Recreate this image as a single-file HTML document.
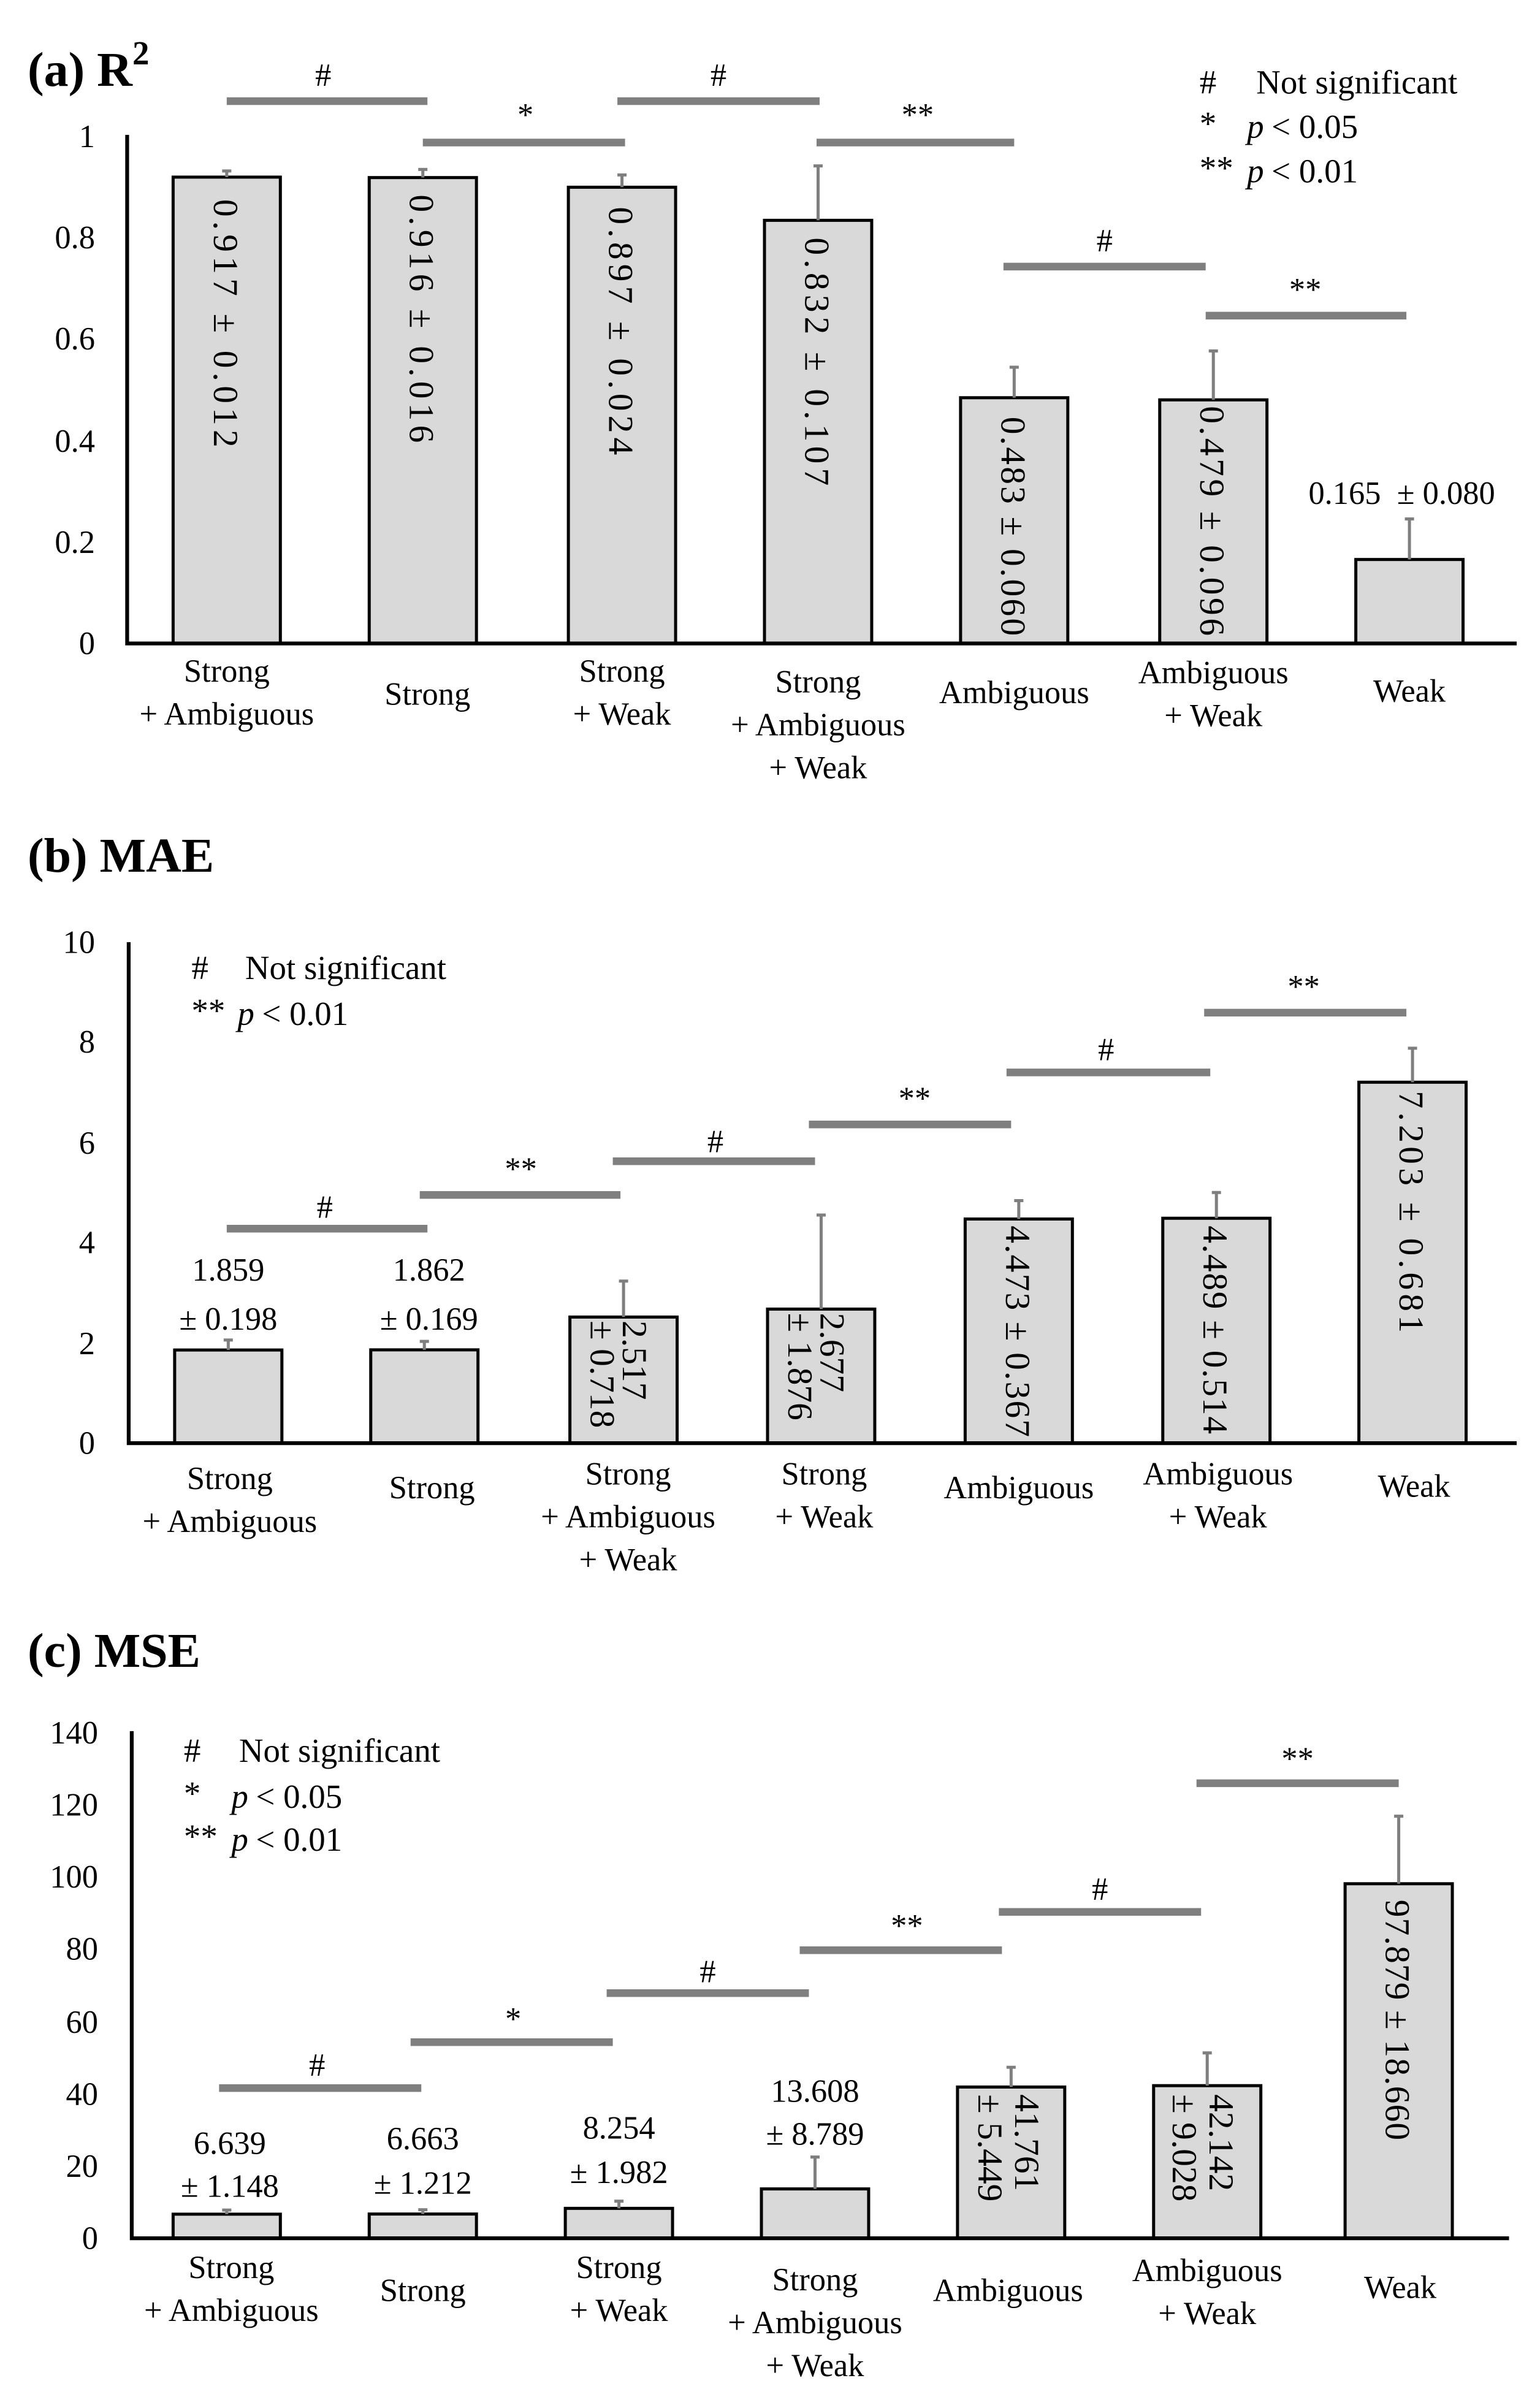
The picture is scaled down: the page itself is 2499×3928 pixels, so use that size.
<!DOCTYPE html>
<html><head><meta charset="utf-8"><style>
html,body{margin:0;padding:0;background:#fff;}
svg{display:block;font-family:"Liberation Serif","Times New Roman",serif;}
svg text{font-family:"Liberation Serif","Times New Roman",serif;fill:#000;}
.t{font-size:22px;}
.tk{font-size:21px;text-anchor:end;}
.c{font-size:21px;text-anchor:middle;}
.h{font-size:32px;font-weight:bold;}
.r{font-size:23px;dominant-baseline:central;}
.bar{fill:#d9d9d9;stroke:#000;stroke-width:2;}
.sig{stroke:#7f7f7f;stroke-width:5;}
.err{stroke:#7f7f7f;stroke-width:2;}
.ax{stroke:#000;stroke-width:2.5;fill:none;}
</style></head><body>
<svg width="2499" height="3928" viewBox="0 0 1000 1571.8" xmlns="http://www.w3.org/2000/svg" font-family="Liberation Serif, Times New Roman, serif">
<!-- ============ (a) ============ -->
<text x="18" y="56" class="h">(a) R<tspan font-size="22" dy="-14">2</tspan></text>
<g class="tk">
<text x="62" y="427">0</text><text x="62" y="361">0.2</text><text x="62" y="295">0.4</text>
<text x="62" y="228">0.6</text><text x="62" y="162">0.8</text><text x="62" y="96">1</text>
</g>
<g>
<rect class="bar" x="113" y="115.6" width="70" height="304.4"/>
<rect class="bar" x="241" y="115.9" width="70" height="304.1"/>
<rect class="bar" x="371" y="122.2" width="70" height="297.8"/>
<rect class="bar" x="499" y="143.8" width="70" height="276.2"/>
<rect class="bar" x="627" y="259.6" width="70" height="160.4"/>
<rect class="bar" x="757" y="261" width="70" height="159"/>
<rect class="bar" x="885" y="365.2" width="70" height="54.8"/>
</g>
<g class="err">
<path d="M148 115.6V111.6M145 111.6h6"/><path d="M276 115.9V110.6M273 110.6h6"/>
<path d="M406 122.2V114.2M403 114.2h6"/><path d="M534 143.8V108.3M531 108.3h6"/>
<path d="M662 259.6V239.7M659 239.7h6"/><path d="M792 261V229.1M789 229.1h6"/>
<path d="M920 365.2V338.7M917 338.7h6"/>
</g>
<path class="ax" d="M83 88V420H990"/>
<g>
<text class="r" transform="translate(147,130) rotate(90)" textLength="162">0.917 ± 0.012</text>
<text class="r" transform="translate(275,127) rotate(90)" textLength="162">0.916 ± 0.016</text>
<text class="r" transform="translate(405,135) rotate(90)" textLength="162">0.897 ± 0.024</text>
<text class="r" transform="translate(533,155) rotate(90)" textLength="162">0.832 ± 0.107</text>
<text class="r" transform="translate(661,272) rotate(90)" textLength="143">0.483 ± 0.060</text>
<text class="r" transform="translate(791,265) rotate(90)" textLength="150">0.479 ± 0.096</text>
</g>
<text x="915" y="329" class="c" font-size="23">0.165 &#160;± 0.080</text>
<g class="sig">
<path d="M148 66H279"/><path d="M276 93H408"/><path d="M403 66H535"/><path d="M533 93H662"/>
<path d="M655 174H787"/><path d="M787 206H918"/>
</g>
<g class="c">
<text x="211" y="56">#</text><text x="343" y="82">*</text><text x="469" y="56">#</text><text x="599" y="82">**</text>
<text x="721" y="164">#</text><text x="852" y="196">**</text>
</g>
<g class="t">
<text x="783" y="61">#</text><text x="820" y="61">Not significant</text>
<text x="783" y="88">*</text><text x="814" y="90" font-style="italic">p</text><text x="830" y="90">&lt; 0.05</text>
<text x="783" y="117">**</text><text x="814" y="119" font-style="italic">p</text><text x="830" y="119">&lt; 0.01</text>
</g>
<g class="c">
<text x="148" y="445">Strong</text><text x="148" y="473">+ Ambiguous</text>
<text x="279" y="460">Strong</text>
<text x="406" y="445">Strong</text><text x="406" y="473">+ Weak</text>
<text x="534" y="452">Strong</text><text x="534" y="480">+ Ambiguous</text><text x="534" y="508">+ Weak</text>
<text x="662" y="459">Ambiguous</text>
<text x="792" y="446">Ambiguous</text><text x="792" y="474">+ Weak</text>
<text x="920" y="458">Weak</text>
</g>

<!-- ============ (b) ============ -->
<text x="18" y="569" class="h">(b) MAE</text>
<g class="tk">
<text x="62" y="949">0</text><text x="62" y="884">2</text><text x="62" y="818">4</text>
<text x="62" y="753">6</text><text x="62" y="687">8</text><text x="62" y="622">10</text>
</g>
<g>
<rect class="bar" x="114" y="881.2" width="70" height="60.8"/>
<rect class="bar" x="242" y="881.1" width="70" height="60.9"/>
<rect class="bar" x="372" y="859.7" width="70" height="82.3"/>
<rect class="bar" x="501" y="854.5" width="70" height="87.5"/>
<rect class="bar" x="630" y="795.7" width="70" height="146.3"/>
<rect class="bar" x="759" y="795.2" width="70" height="146.8"/>
<rect class="bar" x="887" y="706.4" width="70" height="235.6"/>
</g>
<g class="err">
<path d="M149 881.2V874.7M146 874.7h6"/><path d="M277 881.1V875.6M274 875.6h6"/>
<path d="M407 859.7V836.2M404 836.2h6"/><path d="M536 854.5V793.1M533 793.1h6"/>
<path d="M665 795.7V783.7M662 783.7h6"/><path d="M794 795.2V778.4M791 778.4h6"/>
<path d="M922 706.4V684.2M919 684.2h6"/>
</g>
<path class="ax" d="M84 615V942H990"/>
<g>
<text class="r" font-size="21" transform="translate(414,862) rotate(90)">2.517</text>
<text class="r" font-size="21" transform="translate(393,862) rotate(90)">± 0.718</text>
<text class="r" font-size="21" transform="translate(543,857) rotate(90)">2.677</text>
<text class="r" font-size="21" transform="translate(522,857) rotate(90)">± 1.876</text>
<text class="r" transform="translate(664,800) rotate(90)" textLength="138">4.473 ± 0.367</text>
<text class="r" transform="translate(793,800) rotate(90)" textLength="136">4.489 ± 0.514</text>
<text class="r" transform="translate(921,712) rotate(90)" textLength="158">7.203 ± 0.681</text>
</g>
<g class="c" font-size="23">
<text x="149" y="836">1.859</text><text x="149" y="868">± 0.198</text>
<text x="280" y="836">1.862</text><text x="280" y="868">± 0.169</text>
</g>
<g class="sig">
<path d="M148 802H279"/><path d="M274 780H405"/><path d="M400 758H532"/><path d="M528 734H660"/>
<path d="M657 700H790"/><path d="M786 661H918"/>
</g>
<g class="c">
<text x="212" y="795">#</text><text x="340" y="770">**</text><text x="467" y="752">#</text><text x="597" y="724">**</text>
<text x="722" y="692">#</text><text x="851" y="651">**</text>
</g>
<g class="t">
<text x="125" y="639">#</text><text x="160" y="639">Not significant</text>
<text x="125" y="667">**</text><text x="155" y="669" font-style="italic">p</text><text x="171" y="669">&lt; 0.01</text>
</g>
<g class="c">
<text x="150" y="972">Strong</text><text x="150" y="1000">+ Ambiguous</text>
<text x="282" y="978">Strong</text>
<text x="410" y="969">Strong</text><text x="410" y="997">+ Ambiguous</text><text x="410" y="1025">+ Weak</text>
<text x="538" y="969">Strong</text><text x="538" y="997">+ Weak</text>
<text x="665" y="978">Ambiguous</text>
<text x="795" y="969">Ambiguous</text><text x="795" y="997">+ Weak</text>
<text x="923" y="977">Weak</text>
</g>

<!-- ============ (c) ============ -->
<text x="18" y="1088" class="h">(c) MSE</text>
<g class="tk">
<text x="64" y="1468">0</text><text x="64" y="1421">20</text><text x="64" y="1374">40</text>
<text x="64" y="1327">60</text><text x="64" y="1279">80</text><text x="64" y="1232">100</text>
<text x="64" y="1185">120</text><text x="64" y="1138">140</text>
</g>
<g>
<rect class="bar" x="113" y="1445.3" width="70" height="15.7"/>
<rect class="bar" x="241" y="1445.2" width="70" height="15.8"/>
<rect class="bar" x="369" y="1441.5" width="70" height="19.5"/>
<rect class="bar" x="497" y="1428.8" width="70" height="32.2"/>
<rect class="bar" x="625" y="1362.3" width="70" height="98.7"/>
<rect class="bar" x="753" y="1361.4" width="70" height="99.6"/>
<rect class="bar" x="878" y="1229.6" width="70" height="231.4"/>
</g>
<g class="err">
<path d="M148 1445.3V1442.6M145 1442.6h6"/><path d="M276 1445.2V1442.4M273 1442.4h6"/>
<path d="M404 1441.5V1436.8M401 1436.8h6"/><path d="M532 1428.8V1408M529 1408h6"/>
<path d="M660 1362.3V1349.4M657 1349.4h6"/><path d="M788 1361.4V1340M785 1340h6"/>
<path d="M913 1229.6V1185.5M910 1185.5h6"/>
</g>
<path class="ax" d="M86 1130V1461H985"/>
<g>
<text class="r" font-size="21" transform="translate(670,1367) rotate(90)">41.761</text>
<text class="r" font-size="21" transform="translate(646,1367) rotate(90)">± 5.449</text>
<text class="r" font-size="21" transform="translate(797,1367) rotate(90)">42.142</text>
<text class="r" font-size="21" transform="translate(773,1367) rotate(90)">± 9.028</text>
<text class="r" transform="translate(912,1240) rotate(90)" textLength="157">97.879 ± 18.660</text>
</g>
<g class="c" font-size="23">
<text x="150" y="1406">6.639</text><text x="150" y="1434">± 1.148</text>
<text x="276" y="1403">6.663</text><text x="276" y="1432">± 1.212</text>
<text x="404" y="1396">8.254</text><text x="404" y="1425">± 1.982</text>
<text x="532" y="1372">13.608</text><text x="532" y="1400">± 8.789</text>
</g>
<g class="sig">
<path d="M143 1363H275"/><path d="M268 1333H400"/><path d="M396 1301H528"/><path d="M522 1273H654"/>
<path d="M652 1248H784"/><path d="M781 1164H913"/>
</g>
<g class="c">
<text x="207" y="1355">#</text><text x="335" y="1325">*</text><text x="462" y="1294">#</text><text x="592" y="1264">**</text>
<text x="718" y="1240">#</text><text x="847" y="1155">**</text>
</g>
<g class="t">
<text x="120" y="1150">#</text><text x="156" y="1150">Not significant</text>
<text x="120" y="1178">*</text><text x="151" y="1180" font-style="italic">p</text><text x="167" y="1180">&lt; 0.05</text>
<text x="120" y="1206">**</text><text x="151" y="1208" font-style="italic">p</text><text x="167" y="1208">&lt; 0.01</text>
</g>
<g class="c">
<text x="151" y="1487">Strong</text><text x="151" y="1515">+ Ambiguous</text>
<text x="276" y="1502">Strong</text>
<text x="404" y="1487">Strong</text><text x="404" y="1515">+ Weak</text>
<text x="532" y="1495">Strong</text><text x="532" y="1523">+ Ambiguous</text><text x="532" y="1551">+ Weak</text>
<text x="658" y="1502">Ambiguous</text>
<text x="788" y="1489">Ambiguous</text><text x="788" y="1517">+ Weak</text>
<text x="914" y="1500">Weak</text>
</g>
</svg>
</body></html>
